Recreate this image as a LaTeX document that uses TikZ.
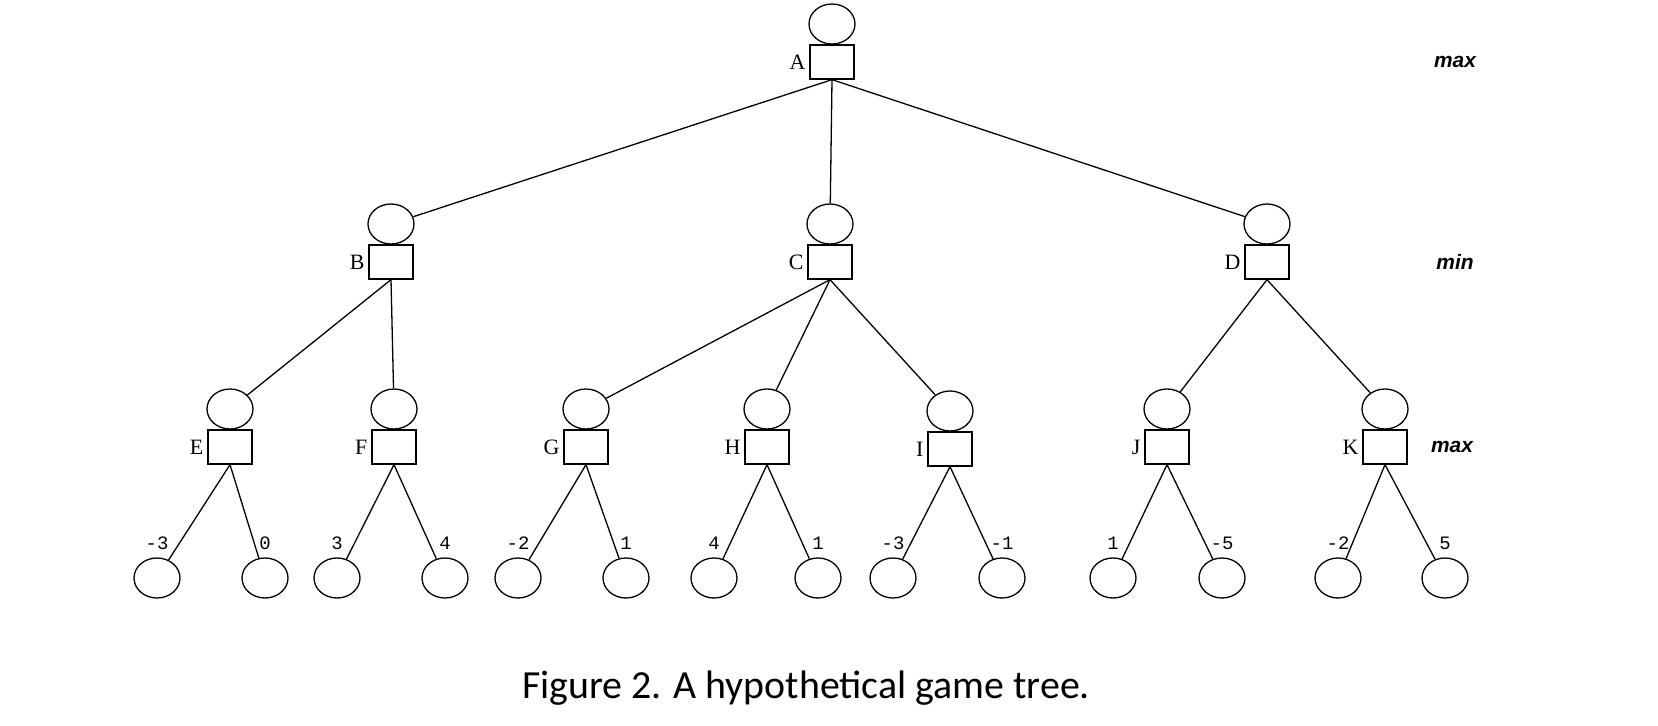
\documentclass[tikz,border=0pt]{standalone}
\usetikzlibrary{shapes.geometric}
\usepackage{fontspec}
\setmainfont{Liberation Serif}
\newfontfamily\capf{Carlito}
\newfontfamily\numf{Liberation Mono}
\newfontfamily\lvlf{Liberation Sans}
\begin{document}
\begin{tikzpicture}[x=1bp,y=-1bp,line width=1.3bp,
  circ/.style={draw,ellipse,minimum width=46bp,minimum height=40bp,inner sep=0},
  box/.style={draw,rectangle,minimum width=44bp,minimum height=34bp,inner sep=0},
  lab/.style={font=\fontsize{22}{24}\selectfont},
  num/.style={font=\numf\fontsize{19}{21}\selectfont},
  lvl/.style={font=\lvlf\bfseries\itshape\fontsize{21}{24}\selectfont}]
\useasboundingbox (0,0) rectangle (1658,726);
\foreach \n/\x/\y in {A/832/62,B/391/262,C/830/262,D/1267/262,E/230/447,F/394/447,G/586/447,H/767/447,I/950/449,J/1167/447,K/1385/447}{
  \node[box] (\n) at (\x,\y) {};
  \node[circ] (c\n) at (\x,\y-38) {};
  \node[lab,anchor=east] at (\n.west) {\n};
}
\foreach \n/\a/\b in {E/157/265,F/337/445,G/518/626,H/714/818,I/893/1002,J/1113/1222,K/1338/1445}{
  \node[circ] (\n1) at (\a,578) {};
  \node[circ] (\n2) at (\b,578) {};
  \draw (\n.south) -- (\n1);
  \draw (\n.south) -- (\n2);
}
\foreach \n/\v in {E1/-3,E2/0,F1/3,F2/4,G1/-2,G2/1,H1/4,H2/1,I1/-3,I2/-1,J1/1,J2/-5,K1/-2,K2/5}{
  \node[num] at ([yshift=35bp]\n.center) {\v};
}
\draw (A.south) -- (cB); \draw (A.south) -- (cC); \draw (A.south) -- (cD);
\draw (B.south) -- (cE); \draw (B.south) -- (cF);
\draw (C.south) -- (cG); \draw (C.south) -- (cH); \draw (C.south) -- (cI);
\draw (D.south) -- (cJ); \draw (D.south) -- (cK);
\node[lvl] at (1455,62) {max};
\node[lvl] at (1455,262) {min};
\node[lvl] at (1452,447) {max};
\node[font=\capf\fontsize{40}{44}\selectfont] at (806,688) {Figure 2. A hypothetical game tree.};
\end{tikzpicture}
\end{document}
